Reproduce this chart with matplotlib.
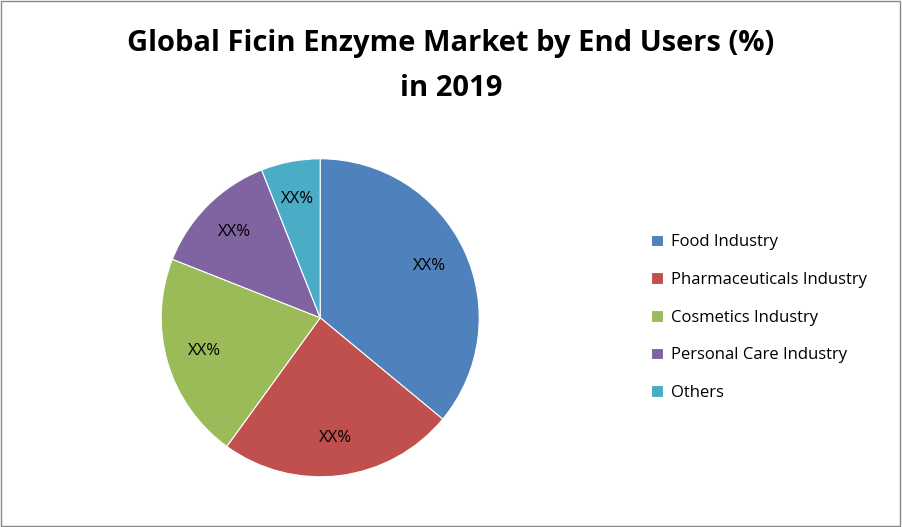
import matplotlib
matplotlib.use("Agg")
import matplotlib.pyplot as plt
from matplotlib.patches import Rectangle

categories = ["Food Industry", "Pharmaceuticals Industry", "Cosmetics Industry", "Personal Care Industry", "Others"]
values = [36, 24, 21, 13, 6]
labels = ["XX%"] * 5
colors = ["#4F81BD", "#C0504D", "#9BBB59", "#8064A2", "#4BACC6"]

plt.rcParams['font.family'] = ['Open Sans', 'DejaVu Sans']
fig = plt.figure(figsize=(9.02, 5.27), dpi=100)
fig.patches.append(Rectangle((0.001, 0.002), 0.997, 0.996, transform=fig.transFigure,
                             fill=False, edgecolor="#888888", linewidth=1))
fig.text(0.5, 0.918, "Global Ficin Enzyme Market by End Users (%)", ha="center", va="center",
         fontsize=21, fontweight="bold")
fig.text(0.5, 0.833, "in 2019", ha="center", va="center", fontsize=21, fontweight="bold")

ax = fig.add_axes([0.355 - 0.1763, 0.397 - 0.3017, 0.3526, 0.6034])
wedges, texts = ax.pie(values, labels=labels, colors=colors, startangle=90, counterclock=False,
                       labeldistance=0.76, wedgeprops=dict(edgecolor="white", linewidth=0.8),
                       textprops=dict(fontsize=12, ha="center", va="center"))
for t in texts:
    t.set_horizontalalignment("center")
ax.set_xlim(-1, 1)
ax.set_ylim(-1, 1)
ax.set_aspect("equal")

leg = fig.legend(wedges, categories, loc="center left", bbox_to_anchor=(0.705, 0.397),
                 frameon=False, fontsize=12, handlelength=0.7, handleheight=0.7,
                 labelspacing=1.3, handletextpad=0.5)
fig.savefig("out.png", dpi=100)
